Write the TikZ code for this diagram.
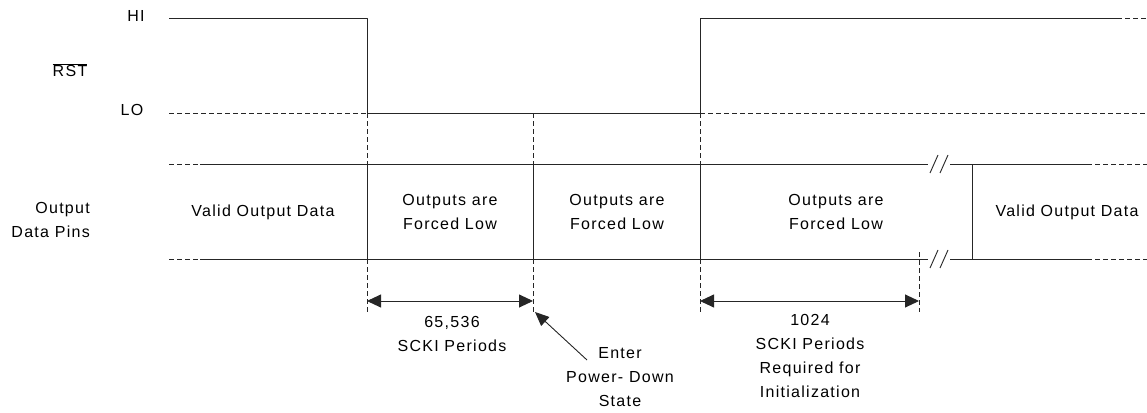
\documentclass[tikz,border=0pt]{standalone}
\usepackage{fontspec}
\setmainfont{Liberation Sans}[LetterSpace=8]
\usetikzlibrary{arrows.meta}

\begin{document}
\begin{tikzpicture}[x=1pt,y=-1pt,line join=round,
    sig/.style={line width=0.9pt,black!85},
    dsig/.style={sig,dash pattern=on 5pt off 3pt},
    ext/.style={line width=0.7pt,black!85,dash pattern=on 5pt off 3pt},
    dimarrow/.style={line width=0.9pt,black!85,
        {Triangle[length=14pt,width=13pt]}-{Triangle[length=14pt,width=13pt]}},
    lbl/.style={font=\fontsize{16pt}{24pt}\selectfont,align=center,inner sep=0pt}]
    \useasboundingbox (0,0) rectangle (1147,412);

    % RST waveform
    \draw[sig] (169,18) -- (367,18) -- (367,113) -- (700,113) -- (700,18) -- (1117,18);
    \draw[dsig] (1117,18) -- (1147,18);
    \draw[dsig] (169,113) -- (367,113);
    \draw[dsig] (700,113) -- (1147,113);

    % data bus
    \foreach \y in {164,259} {
        \draw[dsig] (169,\y) -- (200,\y);
        \draw[sig] (200,\y) -- (928,\y);
        \draw[sig] (930,\y+9) -- (938,\y-9);
        \draw[sig] (940,\y+9) -- (948,\y-9);
        \draw[sig] (950,\y) -- (1087,\y);
        \draw[dsig] (1087,\y) -- (1147,\y);
    }
    \foreach \x in {367,533,700,972} {
        \draw[sig] (\x,164) -- (\x,259);
    }
    \foreach \x in {367,533,700} {
        \draw[ext] (\x,113) -- (\x,164);
        \draw[ext] (\x,259) -- (\x,312);
    }
    \draw[ext] (919,252) -- (919,312);

    % labels
    \node[lbl] (hi) at (136,16) {HI};
    \node[lbl] (lo) at (132,110) {LO};
    \node[lbl] (rst) at (70,70) {$\overline{\mbox{RST}}$};
    \node[lbl,align=right,anchor=east] (pins) at (90,220) {Output\\Data Pins};
    \node[lbl] (valid1) at (263,212) {Valid Output Data};
    \node[lbl] (forced1) at (450,212) {Outputs are\\Forced Low};
    \node[lbl] (forced2) at (617,212) {Outputs are\\Forced Low};
    \node[lbl] (forced3) at (836,212) {Outputs are\\Forced Low};
    \node[lbl] (valid2) at (1067,212) {Valid Output Data};

    % timing
    \coordinate (d1a) at (367,301);
    \coordinate (d1b) at (533,301);
    \coordinate (d2a) at (700,301);
    \coordinate (d2b) at (919,301);
    \draw[dimarrow] (d1a) -- (d1b);
    \draw[dimarrow] (d2a) -- (d2b);
    \node[lbl] (cnt1) at (452,334) {65,536\\SCKI Periods};
    \node[lbl] (cnt2) at (810,356) {1024\\SCKI Periods\\Required for\\Initialization};
    \node[lbl] (pwrdn) at (620,377) {Enter\\Power- Down\\State};
    \coordinate (pdtail) at (587,360);
    \coordinate (pdtip) at (535,312);
    \draw[line width=0.9pt,black!85,-{Triangle[length=14pt,width=12pt]}] (pdtail) -- (pdtip);
\end{tikzpicture}
\end{document}
